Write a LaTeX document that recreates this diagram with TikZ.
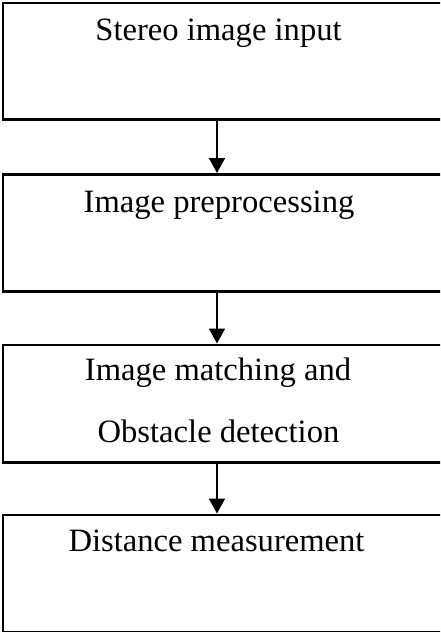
\documentclass[tikz,border=0pt]{standalone}
\usepackage{fontspec}
\setmainfont{Liberation Serif}
\usetikzlibrary{arrows.meta}
\begin{document}
\begin{tikzpicture}[x=1pt,y=1pt,
  box/.style={draw=black, line width=2.6pt, rectangle, minimum width=500pt, anchor=north west, inner sep=0pt},
  lbl/.style={anchor=base, inner sep=0pt, font=\fontsize{32.6}{38}\selectfont},
  conn/.style={line width=1.7pt, -{Triangle[width=16pt,length=15pt]}}]
\useasboundingbox (0,0) rectangle (440,-632);
\clip (0,0) rectangle (440,-632);
\fill[white] (0,0) rectangle (440,-632);
\node[box, minimum height=116.5pt] (b1) at (1.5,-1.5) {};
\node[box, minimum height=117pt] (b2) at (1.5,-173) {};
\node[box, minimum height=117.5pt] (b3) at (1.5,-343.5) {};
\node[box, minimum height=117pt] (b4) at (1.5,-513.5) {};
\coordinate (axis) at (217,0);
\node[lbl] (t1) at (218.5,-40) {Stereo image input};
\node[lbl] (t2) at (219,-212) {Image preprocessing};
\node[lbl] (t3a) at (218,-380) {Image matching and};
\node[lbl] (t3b) at (218.5,-442) {Obstacle detection};
\node[lbl] (t4) at (216.5,-551) {Distance measurement};
\draw[conn] (b1.south -| axis) -- (b2.north -| axis);
\draw[conn] (b2.south -| axis) -- (b3.north -| axis);
\draw[conn] (b3.south -| axis) -- (b4.north -| axis);
\end{tikzpicture}
\end{document}
